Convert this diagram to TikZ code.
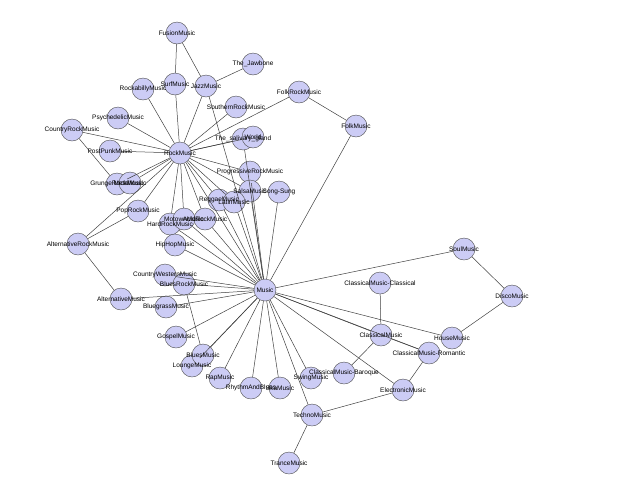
\documentclass[tikz,border=0pt]{standalone}
\usepackage{fontspec}
\setmainfont{Liberation Sans}
\begin{document}
\begin{tikzpicture}[x=1pt,y=-1pt,
 v/.style={circle,draw=black!70,fill={rgb,255:red,204;green,204;blue,245},minimum size=22pt,inner sep=0pt},
 lb/.style={font=\fontsize{6.5}{7}\selectfont,inner sep=0pt},
 e/.style={draw=black!75,line width=0.5pt}]
\useasboundingbox (0,0) rectangle (640,488);
\def\V#1#2#3#4{\node[v] (#1) at (#2,#3) {};}
\V{fus}{177}{33}{}\V{jaw}{253}{64}{}\V{surf}{175}{84}{}\V{jazz}{206}{86}{}
\V{rockab}{143}{89}{}\V{south}{236}{107}{}\V{folkrock}{299}{92}{}\V{folk}{356}{126}{}
\V{psy}{118}{118}{}\V{cr}{72}{130}{}\V{pp}{110}{151}{}\V{rock}{180}{153}{}
\V{sal}{243}{139}{}\V{world}{253}{137}{}\V{prog}{250}{172}{}\V{salsa}{250}{191}{}
\V{song}{279}{192}{}\V{grunge}{117}{184}{}\V{metal}{130}{183}{}\V{reg}{219}{200}{}
\V{latin}{234}{202}{}\V{pop}{138}{211}{}\V{hard}{170}{224}{}\V{mot}{184}{219}{}
\V{acid}{205}{219}{}\V{hip}{175}{245}{}\V{altrock}{78}{244}{}\V{cw}{165}{275}{}
\V{br}{184}{284}{}\V{alt}{121}{299}{}\V{blueg}{166}{307}{}\V{gos}{176}{337}{}
\V{lounge}{192}{366}{}\V{blues}{203}{355}{}\V{rap}{220}{378}{}\V{rnb}{251}{388}{}
\V{ska}{280}{388}{}\V{swing}{311}{378}{}\V{baro}{344}{373}{}\V{techno}{312}{415}{}
\V{trance}{289}{463}{}\V{music}{265}{290}{}\V{soul}{464}{249}{}\V{disco}{512}{296}{}
\V{cc}{380}{283}{}\V{cl}{381}{335}{}\V{house}{452}{338}{}\V{rom}{429}{353}{}
\V{elec}{403}{390}{}
\foreach \a/\b in {fus/surf,fus/jazz,jazz/jaw,folkrock/folk,altrock/alt,pop/altrock,
 soul/disco,disco/house,cc/cl,cl/rom,cl/baro,rom/elec,elec/techno,techno/trance,br/blues,cr/grunge}
 \path[e] (\a) -- (\b);
\foreach \b in {surf,rockab,south,folkrock,psy,cr,pp,sal,world,prog,grunge,metal,pop,hard,mot,reg,latin,salsa,acid,altrock,jazz}
 \path[e] (rock) -- (\b);
\foreach \b in {rock,jazz,folk,prog,salsa,song,reg,latin,mot,acid,hard,hip,cw,br,alt,blueg,gos,blues,lounge,rap,rnb,ska,swing,techno,elec,house,rom,soul,cl,sal}
 \path[e] (music) -- (\b);
\foreach \n/\t in {fus/FusionMusic,jaw/The\_Jawbone,surf/SurfMusic,jazz/JazzMusic,
 rockab/RockabillyMusic,south/SouthernRockMusic,folkrock/FolkRockMusic,folk/FolkMusic,
 psy/PsychedelicMusic,cr/CountryRockMusic,pp/PostPunkMusic,rock/RockMusic,
 sal/The\_salivary\_gland,world/World,prog/ProgressiveRockMusic,salsa/SalsaMusic,
 song/Song-Sung,grunge/GrungeRockMusic,metal/MetalMusic,reg/ReggaeMusic,latin/LatinMusic,
 pop/PopRockMusic,hard/HardRockMusic,mot/MotownMusic,acid/AcidRockMusic,hip/HipHopMusic,
 altrock/AlternativeRockMusic,cw/CountryWesternMusic,br/BluesRockMusic,alt/AlternativeMusic,
 blueg/BluegrassMusic,gos/GospelMusic,lounge/LoungeMusic,blues/BluesMusic,rap/RapMusic,
 rnb/RhythmAndBlues,ska/SkaMusic,swing/SwingMusic,baro/ClassicalMusic-Baroque,
 techno/TechnoMusic,trance/TranceMusic,music/Music,soul/SoulMusic,disco/DiscoMusic,
 cc/ClassicalMusic-Classical,cl/ClassicalMusic,house/HouseMusic,rom/ClassicalMusic-Romantic,
 elec/ElectronicMusic}
 \node[lb] (t-\n) at (\n) {\t};
\end{tikzpicture}
\end{document}
